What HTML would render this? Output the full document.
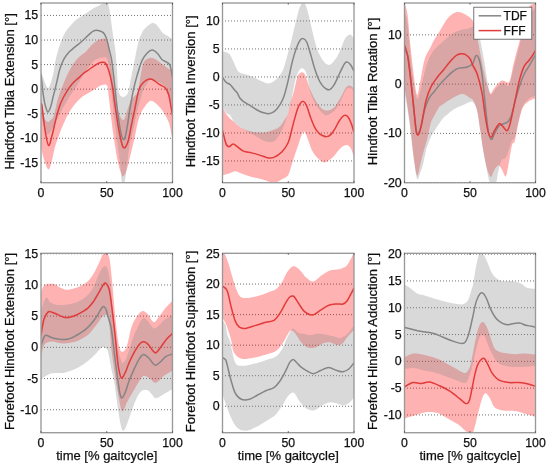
<!DOCTYPE html><html><head><meta charset="utf-8"><style>html,body{margin:0;padding:0;background:#fff;}svg{display:block;will-change:transform;}text{font-family:"Liberation Sans",sans-serif;fill:#111;stroke:#111;stroke-width:0.25px;}</style></head><body>
<svg width="550" height="467" viewBox="0 0 550 467">
<defs><filter id="bl" x="0" y="0" width="100%" height="100%"><feGaussianBlur stdDeviation="0.3"/></filter>
<clipPath id="c0"><rect x="41.00" y="3.00" width="131.50" height="179.70"/></clipPath>
<clipPath id="c1"><rect x="222.50" y="3.00" width="131.50" height="179.70"/></clipPath>
<clipPath id="c2"><rect x="404.50" y="3.00" width="131.00" height="179.70"/></clipPath>
<clipPath id="c3"><rect x="41.00" y="253.30" width="131.50" height="179.40"/></clipPath>
<clipPath id="c4"><rect x="222.50" y="253.30" width="131.50" height="179.40"/></clipPath>
<clipPath id="c5"><rect x="404.50" y="253.30" width="131.00" height="179.40"/></clipPath>
</defs>
<rect width="550" height="467" fill="#fff"/><g filter="url(#bl)">
<line x1="41.0" y1="15.45" x2="172.5" y2="15.45" stroke="#707070" stroke-width="1" stroke-dasharray="1,2" stroke-dashoffset="0.00"/>
<line x1="41.0" y1="40.02" x2="172.5" y2="40.02" stroke="#707070" stroke-width="1" stroke-dasharray="1,2" stroke-dashoffset="0.00"/>
<line x1="41.0" y1="64.58" x2="172.5" y2="64.58" stroke="#707070" stroke-width="1" stroke-dasharray="1,2" stroke-dashoffset="0.00"/>
<line x1="41.0" y1="89.15" x2="172.5" y2="89.15" stroke="#707070" stroke-width="1" stroke-dasharray="1,2" stroke-dashoffset="0.00"/>
<line x1="41.0" y1="113.72" x2="172.5" y2="113.72" stroke="#707070" stroke-width="1" stroke-dasharray="1,2" stroke-dashoffset="0.00"/>
<line x1="41.0" y1="138.28" x2="172.5" y2="138.28" stroke="#707070" stroke-width="1" stroke-dasharray="1,2" stroke-dashoffset="0.00"/>
<line x1="41.0" y1="162.85" x2="172.5" y2="162.85" stroke="#707070" stroke-width="1" stroke-dasharray="1,2" stroke-dashoffset="0.00"/>
<g clip-path="url(#c0)">
<path d="M41.00,96.27 C41.53,99.63 43.06,112.16 44.16,116.41 C45.25,120.67 46.46,121.25 47.58,121.82 C48.69,122.39 49.81,120.96 50.86,119.85 C51.91,118.75 52.68,118.84 53.89,115.19 C55.09,111.53 56.54,103.11 58.09,97.94 C59.65,92.77 61.69,88.06 63.22,84.18 C64.76,80.30 66.12,77.22 67.30,74.65 C68.48,72.08 69.38,70.48 70.32,68.76 C71.27,67.04 71.81,65.97 72.95,64.33 C74.09,62.70 75.76,60.48 77.16,58.93 C78.57,57.37 80.06,56.06 81.37,55.00 C82.69,53.93 83.74,53.77 85.05,52.54 C86.37,51.31 87.84,49.18 89.26,47.63 C90.69,46.07 92.15,44.43 93.60,43.21 C95.05,41.98 96.51,40.99 97.94,40.26 C99.36,39.52 100.88,38.95 102.15,38.78 C103.42,38.62 104.65,38.37 105.57,39.28 C106.49,40.18 107.03,41.90 107.67,44.19 C108.31,46.48 108.68,48.94 109.38,53.03 C110.08,57.13 111.13,63.43 111.88,68.76 C112.62,74.08 113.06,79.16 113.85,84.97 C114.64,90.78 115.60,98.48 116.61,103.64 C117.62,108.80 118.69,113.22 119.90,115.92 C121.11,118.63 122.64,120.67 123.84,119.85 C125.05,119.04 126.04,114.12 127.13,111.01 C128.23,107.90 129.21,103.64 130.42,101.18 C131.63,98.73 133.12,97.91 134.37,96.27 C135.61,94.63 136.82,95.04 137.92,91.36 C139.01,87.67 139.95,79.07 140.94,74.16 C141.93,69.25 142.34,64.58 143.83,61.88 C145.32,59.17 147.89,58.36 149.88,57.95 C151.88,57.54 153.81,58.44 155.80,59.42 C157.79,60.40 159.83,62.37 161.85,63.84 C163.86,65.32 166.34,67.12 167.90,68.26 C169.45,69.41 170.42,69.74 171.19,70.72 C171.95,71.70 172.28,73.59 172.50,74.16 L172.50,138.03 C172.35,137.54 172.15,137.54 171.58,135.09 C171.01,132.63 170.35,126.98 169.08,123.29 C167.81,119.61 165.95,116.09 163.95,112.98 C161.96,109.86 159.31,106.67 157.11,104.62 C154.92,102.58 152.84,100.36 150.80,100.69 C148.76,101.02 146.86,103.72 144.88,106.59 C142.91,109.45 140.72,112.48 138.97,117.89 C137.21,123.29 135.57,133.69 134.37,139.02 C133.16,144.34 132.72,145.73 131.74,149.83 C130.75,153.92 129.43,159.82 128.45,163.58 C127.46,167.35 126.69,170.30 125.82,172.43 C124.94,174.56 123.87,175.95 123.19,176.36 C122.51,176.77 122.64,177.34 121.74,174.88 C120.84,172.43 119.26,168.82 117.80,161.62 C116.33,154.41 114.44,142.54 112.93,131.65 C111.42,120.75 109.71,103.97 108.72,96.27 C107.74,88.57 108.13,87.34 107.01,85.46 C105.90,83.58 103.51,84.72 102.02,84.97 C100.53,85.22 100.02,85.75 98.07,86.93 C96.12,88.12 93.25,90.21 90.31,92.09 C87.38,93.98 83.74,95.25 80.45,98.24 C77.16,101.22 73.55,105.44 70.59,110.03 C67.63,114.61 64.78,121.08 62.70,125.75 C60.62,130.42 59.41,134.35 58.09,138.03 C56.78,141.72 55.90,143.77 54.81,147.86 C53.71,151.95 52.57,159.00 51.52,162.60 C50.47,166.20 49.59,169.48 48.50,169.48 C47.40,169.48 46.19,166.20 44.95,162.60 C43.70,159.00 41.66,150.32 41.00,147.86 Z" fill="#ff0000" fill-opacity="0.30"/>
<path d="M41.00,70.23 C41.44,71.70 42.42,76.13 43.63,79.07 C44.84,82.02 46.70,88.57 48.23,87.92 C49.77,87.26 51.59,79.89 52.84,75.14 C54.08,70.39 54.59,64.42 55.73,59.42 C56.87,54.42 58.18,49.51 59.67,45.17 C61.16,40.83 62.85,36.65 64.67,33.38 C66.49,30.10 68.62,27.81 70.59,25.52 C72.56,23.23 74.53,21.26 76.50,19.62 C78.48,17.98 80.45,17.00 82.42,15.69 C84.39,14.38 86.39,13.07 88.34,11.76 C90.29,10.45 92.15,8.98 94.13,7.83 C96.10,6.68 98.51,5.78 100.17,4.88 C101.84,3.98 103.02,3.00 104.12,2.43 C105.22,1.85 105.92,0.54 106.75,1.44 C107.58,2.34 108.39,4.55 109.12,7.83 C109.84,11.11 110.39,16.18 111.09,21.10 C111.79,26.01 112.62,32.48 113.33,37.31 C114.03,42.14 114.71,44.76 115.30,50.08 C115.89,55.41 116.37,62.61 116.88,69.25 C117.38,75.88 117.60,85.38 118.32,89.88 C119.05,94.39 120.25,95.12 121.22,96.27 C122.18,97.42 123.19,97.01 124.11,96.76 C125.03,96.52 126.01,95.70 126.74,94.80 C127.46,93.90 127.61,94.80 128.45,91.36 C129.28,87.92 130.60,79.89 131.74,74.16 C132.87,68.43 134.17,62.37 135.29,56.96 C136.40,51.56 137.39,45.58 138.44,41.73 C139.49,37.88 140.61,36.00 141.60,33.87 C142.58,31.74 142.58,30.76 144.36,28.96 C146.13,27.16 150.10,23.63 152.25,23.06 C154.40,22.49 155.58,23.96 157.25,25.52 C158.91,27.07 160.42,30.60 162.24,32.40 C164.06,34.20 166.54,35.18 168.16,36.33 C169.78,37.47 171.25,38.29 171.97,39.28 C172.70,40.26 172.41,41.73 172.50,42.22 L172.50,108.55 C171.84,106.10 169.76,97.50 168.56,93.81 C167.35,90.13 166.80,88.33 165.27,86.44 C163.73,84.56 161.78,83.58 159.35,82.51 C156.92,81.45 152.86,79.65 150.67,80.06 C148.48,80.47 147.49,83.09 146.20,84.97 C144.91,86.85 143.88,88.90 142.91,91.36 C141.95,93.81 141.33,96.60 140.41,99.71 C139.49,102.82 138.40,105.85 137.39,110.03 C136.38,114.20 135.31,120.51 134.37,124.77 C133.42,129.03 132.61,131.73 131.74,135.58 C130.86,139.43 130.09,141.31 129.11,147.86 C128.12,154.41 126.91,168.50 125.82,174.88 C124.72,181.27 123.52,188.39 122.53,186.18 C121.54,183.97 121.00,170.71 119.90,161.62 C118.80,152.53 117.38,143.23 115.95,131.65 C114.53,120.06 112.45,102.08 111.35,92.09 C110.26,82.10 110.10,77.31 109.38,71.70 C108.66,66.09 108.24,60.81 107.01,58.44 C105.79,56.06 103.51,57.45 102.02,57.45 C100.53,57.45 99.39,57.95 98.07,58.44 C96.76,58.93 95.42,59.26 94.13,60.40 C92.83,61.55 91.93,63.19 90.31,65.32 C88.69,67.45 86.37,70.23 84.40,73.18 C82.42,76.13 80.45,79.85 78.48,83.00 C76.50,86.16 74.20,89.56 72.56,92.09 C70.92,94.63 70.59,94.92 68.61,98.24 C66.64,101.55 63.36,107.08 60.73,111.99 C58.09,116.91 54.98,123.95 52.84,127.72 C50.69,131.48 49.26,134.51 47.84,134.59 C46.41,134.68 45.43,131.73 44.29,128.21 C43.15,124.69 41.55,115.92 41.00,113.47 Z" fill="#808080" fill-opacity="0.30"/>
<path d="M41.00,74.16 C41.33,77.19 42.31,87.34 42.97,92.34 C43.63,97.33 44.13,100.86 44.95,104.13 C45.76,107.41 46.85,111.67 47.84,111.99 C48.82,112.32 49.96,108.72 50.86,106.10 C51.76,103.48 52.57,98.89 53.23,96.27 C53.89,93.65 54.11,93.24 54.81,90.37 C55.51,87.51 56.58,82.68 57.44,79.07 C58.29,75.47 58.80,72.19 59.94,68.76 C61.08,65.32 62.83,61.14 64.28,58.44 C65.72,55.74 67.17,54.18 68.61,52.54 C70.06,50.90 71.53,49.84 72.95,48.61 C74.38,47.38 75.76,46.32 77.16,45.17 C78.57,44.02 80.06,42.88 81.37,41.73 C82.69,40.59 83.74,39.52 85.05,38.29 C86.37,37.06 87.84,35.59 89.26,34.36 C90.69,33.13 92.15,31.58 93.60,30.92 C95.05,30.27 96.51,30.27 97.94,30.43 C99.36,30.60 101.03,31.25 102.15,31.91 C103.27,32.56 103.79,32.81 104.65,34.36 C105.50,35.92 106.49,38.62 107.28,41.24 C108.06,43.86 108.66,46.97 109.38,50.08 C110.10,53.20 110.89,55.49 111.62,59.91 C112.34,64.33 113.04,70.80 113.72,76.62 C114.40,82.43 115.06,89.06 115.69,94.80 C116.33,100.53 116.90,105.93 117.53,111.01 C118.17,116.09 118.85,121.25 119.51,125.26 C120.16,129.27 120.84,132.71 121.48,135.09 C122.11,137.46 122.68,139.26 123.32,139.51 C123.95,139.75 124.61,138.85 125.29,136.56 C125.97,134.27 126.65,130.17 127.40,125.75 C128.14,121.33 128.97,114.94 129.76,110.03 C130.55,105.11 131.38,100.20 132.13,96.27 C132.87,92.34 133.53,89.47 134.23,86.44 C134.93,83.41 135.61,80.71 136.34,78.09 C137.06,75.47 137.61,73.67 138.57,70.72 C139.54,67.77 140.68,63.35 142.12,60.40 C143.57,57.45 145.59,54.75 147.25,53.03 C148.92,51.31 150.41,50.00 152.12,50.08 C153.83,50.17 155.89,51.97 157.51,53.52 C159.13,55.08 160.42,58.03 161.85,59.42 C163.27,60.81 164.72,60.89 166.06,61.88 C167.39,62.86 168.80,62.78 169.87,65.32 C170.94,67.85 172.06,75.14 172.50,77.11" fill="none" stroke="#858585" stroke-width="1.5"/>
<path d="M41.00,105.11 C41.15,105.20 41.26,101.51 41.92,105.61 C42.58,109.70 43.85,123.05 44.95,129.68 C46.04,136.31 47.33,144.34 48.50,145.40 C49.66,146.47 50.69,140.41 51.91,136.07 C53.14,131.73 54.54,124.44 55.86,119.36 C57.17,114.29 58.49,109.37 59.80,105.61 C61.12,101.84 62.11,99.85 63.75,96.76 C65.39,93.67 67.87,89.62 69.67,87.08 C71.46,84.54 72.89,83.19 74.53,81.53 C76.18,79.87 77.89,78.58 79.53,77.11 C81.17,75.63 82.73,74.00 84.40,72.69 C86.06,71.38 87.88,70.39 89.52,69.25 C91.17,68.10 92.61,66.87 94.26,65.81 C95.90,64.74 97.96,63.43 99.39,62.86 C100.81,62.29 101.86,62.37 102.81,62.37 C103.75,62.37 104.25,62.04 105.04,62.86 C105.83,63.68 106.68,65.15 107.54,67.28 C108.39,69.41 109.31,72.19 110.17,75.63 C111.02,79.07 111.92,83.41 112.67,87.92 C113.41,92.42 113.94,97.66 114.64,102.66 C115.34,107.65 116.15,113.22 116.88,117.89 C117.60,122.56 118.32,127.06 118.98,130.66 C119.64,134.27 120.23,136.97 120.82,139.51 C121.41,142.05 121.98,144.46 122.53,145.89 C123.08,147.33 123.49,148.11 124.11,148.11 C124.72,148.11 125.49,147.25 126.21,145.89 C126.94,144.54 127.64,143.19 128.45,140.00 C129.26,136.80 130.31,130.50 131.08,126.73 C131.84,122.97 132.46,120.18 133.05,117.40 C133.64,114.61 134.08,112.73 134.63,110.03 C135.18,107.33 135.72,104.21 136.34,101.18 C136.95,98.15 137.65,94.30 138.31,91.85 C138.97,89.39 139.52,87.92 140.28,86.44 C141.05,84.97 141.88,84.07 142.91,83.00 C143.94,81.94 145.17,80.71 146.46,80.06 C147.76,79.40 149.25,78.91 150.67,79.07 C152.10,79.24 153.56,80.14 155.01,81.04 C156.46,81.94 157.64,83.33 159.35,84.48 C161.06,85.62 163.71,86.20 165.27,87.92 C166.82,89.64 167.68,91.36 168.69,94.80 C169.69,98.24 170.68,105.11 171.32,108.55 C171.95,111.99 172.30,114.29 172.50,115.43" fill="none" stroke="#e23a3a" stroke-width="1.5"/>
</g>
<rect x="41.00" y="3.00" width="131.50" height="179.70" fill="none" stroke="#999999" stroke-width="1.35"/>
<line x1="41.00" y1="182.70" x2="41.00" y2="181.20" stroke="#555" stroke-width="1"/>
<line x1="41.00" y1="3.00" x2="41.00" y2="4.50" stroke="#555" stroke-width="1"/>
<text x="41.00" y="196.80" font-size="12.3" text-anchor="middle">0</text>
<line x1="106.75" y1="182.70" x2="106.75" y2="181.20" stroke="#555" stroke-width="1"/>
<line x1="106.75" y1="3.00" x2="106.75" y2="4.50" stroke="#555" stroke-width="1"/>
<text x="106.75" y="196.80" font-size="12.3" text-anchor="middle">50</text>
<line x1="172.50" y1="182.70" x2="172.50" y2="181.20" stroke="#555" stroke-width="1"/>
<line x1="172.50" y1="3.00" x2="172.50" y2="4.50" stroke="#555" stroke-width="1"/>
<text x="172.50" y="196.80" font-size="12.3" text-anchor="middle">100</text>
<text x="38.20" y="19.40" font-size="12.4" text-anchor="end">15</text>
<text x="38.20" y="43.97" font-size="12.4" text-anchor="end">10</text>
<text x="38.20" y="68.53" font-size="12.4" text-anchor="end">5</text>
<text x="38.20" y="93.10" font-size="12.4" text-anchor="end">0</text>
<text x="38.20" y="117.67" font-size="12.4" text-anchor="end">-5</text>
<text x="38.20" y="142.23" font-size="12.4" text-anchor="end">-10</text>
<text x="38.20" y="166.80" font-size="12.4" text-anchor="end">-15</text>
<text transform="translate(13.80,91.35) rotate(-90)" font-size="13" text-anchor="middle">Hindfoot Tibia Extension [°]</text>
<line x1="222.5" y1="20.95" x2="354.0" y2="20.95" stroke="#707070" stroke-width="1" stroke-dasharray="1,2" stroke-dashoffset="0.50"/>
<line x1="222.5" y1="48.95" x2="354.0" y2="48.95" stroke="#707070" stroke-width="1" stroke-dasharray="1,2" stroke-dashoffset="0.50"/>
<line x1="222.5" y1="76.95" x2="354.0" y2="76.95" stroke="#707070" stroke-width="1" stroke-dasharray="1,2" stroke-dashoffset="0.50"/>
<line x1="222.5" y1="104.95" x2="354.0" y2="104.95" stroke="#707070" stroke-width="1" stroke-dasharray="1,2" stroke-dashoffset="0.50"/>
<line x1="222.5" y1="132.95" x2="354.0" y2="132.95" stroke="#707070" stroke-width="1" stroke-dasharray="1,2" stroke-dashoffset="0.50"/>
<line x1="222.5" y1="160.95" x2="354.0" y2="160.95" stroke="#707070" stroke-width="1" stroke-dasharray="1,2" stroke-dashoffset="0.50"/>
<g clip-path="url(#c1)">
<path d="M222.50,106.94 C223.27,108.34 225.90,113.47 227.10,115.34 C228.31,117.21 228.72,117.21 229.73,118.14 C230.74,119.07 231.55,119.54 233.15,120.94 C234.75,122.34 237.01,124.95 239.33,126.54 C241.66,128.13 244.37,129.53 247.09,130.46 C249.81,131.39 252.42,131.86 255.64,132.14 C258.86,132.42 263.20,132.61 266.42,132.14 C269.64,131.67 272.65,130.37 274.97,129.34 C277.29,128.31 278.76,127.57 280.36,125.98 C281.96,124.39 283.32,121.87 284.57,119.82 C285.82,117.77 286.96,116.18 287.86,113.66 C288.75,111.14 289.35,107.13 289.96,104.70 C290.57,102.27 290.84,101.53 291.54,99.10 C292.24,96.67 293.23,93.78 294.17,90.14 C295.11,86.50 296.25,80.06 297.19,77.26 C298.13,74.46 298.97,74.18 299.82,73.34 C300.68,72.50 301.51,72.13 302.32,72.22 C303.13,72.31 303.96,72.78 304.69,73.90 C305.41,75.02 305.70,76.23 306.66,78.94 C307.62,81.65 308.83,86.31 310.47,90.14 C312.12,93.97 314.48,98.73 316.52,101.90 C318.56,105.07 320.66,107.78 322.70,109.18 C324.74,110.58 326.71,110.77 328.75,110.30 C330.79,109.83 332.89,108.62 334.93,106.38 C336.97,104.14 339.29,99.75 340.98,96.86 C342.67,93.97 343.87,90.89 345.06,89.02 C346.24,87.15 347.03,86.13 348.08,85.66 C349.13,85.19 350.38,85.66 351.37,86.22 C352.36,86.78 353.56,88.55 354.00,89.02 L354.00,157.34 C353.52,155.94 352.27,150.99 351.11,148.94 C349.95,146.89 348.72,145.21 347.03,145.02 C345.34,144.83 343.35,145.77 340.98,147.82 C338.61,149.87 335.55,154.91 332.83,157.34 C330.11,159.77 327.04,162.10 324.68,162.38 C322.31,162.66 320.66,160.89 318.63,159.02 C316.59,157.15 314.22,154.45 312.45,151.18 C310.67,147.91 309.33,142.69 307.98,139.42 C306.62,136.15 305.39,132.23 304.29,131.58 C303.20,130.93 302.41,133.26 301.40,135.50 C300.39,137.74 299.78,140.45 298.24,145.02 C296.71,149.59 293.88,157.90 292.19,162.94 C290.51,167.98 289.81,172.55 288.12,175.26 C286.43,177.97 283.91,178.06 282.07,179.18 C280.23,180.30 278.78,181.42 277.07,181.98 C275.36,182.54 274.38,183.01 271.81,182.54 C269.25,182.07 265.06,180.11 261.69,179.18 C258.31,178.25 254.96,177.87 251.56,176.94 C248.16,176.01 244.02,174.51 241.30,173.58 C238.59,172.65 237.29,171.34 235.26,171.34 C233.22,171.34 231.20,172.93 229.07,173.58 C226.95,174.23 223.60,174.98 222.50,175.26 Z" fill="#ff0000" fill-opacity="0.30"/>
<path d="M222.50,50.94 C223.60,51.41 227.30,52.06 229.07,53.74 C230.85,55.42 231.79,58.31 233.15,61.02 C234.51,63.73 235.87,67.93 237.23,69.98 C238.59,72.03 238.94,72.31 241.30,73.34 C243.67,74.37 248.03,74.83 251.43,76.14 C254.83,77.45 258.95,79.97 261.69,81.18 C264.43,82.39 265.83,83.42 267.87,83.42 C269.91,83.42 271.90,82.58 273.92,81.18 C275.93,79.78 278.28,77.35 279.97,75.02 C281.65,72.69 282.68,70.91 284.04,67.18 C285.40,63.45 286.87,57.19 288.12,52.62 C289.37,48.05 290.03,45.81 291.54,39.74 C293.05,33.67 295.77,21.73 297.19,16.22 C298.62,10.71 299.05,9.03 300.08,6.70 C301.12,4.37 302.28,2.03 303.37,2.22 C304.47,2.41 305.45,4.27 306.66,7.82 C307.87,11.37 309.29,18.09 310.61,23.50 C311.92,28.91 313.24,35.45 314.55,40.30 C315.87,45.15 316.96,49.07 318.50,52.62 C320.03,56.17 322.05,59.53 323.75,61.58 C325.46,63.63 327.22,64.85 328.75,64.94 C330.29,65.03 331.60,63.45 332.96,62.14 C334.32,60.83 335.59,59.34 336.90,57.10 C338.22,54.86 339.49,51.78 340.85,48.70 C342.21,45.62 343.68,40.95 345.06,38.62 C346.44,36.29 347.97,35.17 349.13,34.70 C350.30,34.23 351.22,34.98 352.03,35.82 C352.84,36.66 353.67,39.09 354.00,39.74 L354.00,91.26 C353.56,90.79 352.36,89.02 351.37,88.46 C350.38,87.90 349.13,87.43 348.08,87.90 C347.03,88.37 346.24,89.21 345.06,91.26 C343.87,93.31 342.67,97.05 340.98,100.22 C339.29,103.39 337.30,107.78 334.93,110.30 C332.57,112.82 328.82,114.87 326.78,115.34 C324.74,115.81 324.41,114.69 322.70,113.10 C320.99,111.51 318.56,109.27 316.52,105.82 C314.48,102.37 312.01,97.23 310.47,92.38 C308.94,87.53 308.28,80.43 307.32,76.70 C306.35,72.97 305.67,71.38 304.69,69.98 C303.70,68.58 302.50,67.93 301.40,68.30 C300.30,68.67 299.10,70.35 298.11,72.22 C297.13,74.09 296.32,76.42 295.48,79.50 C294.65,82.58 293.86,86.87 293.12,90.70 C292.37,94.53 291.71,99.19 291.01,102.46 C290.31,105.73 289.81,107.22 288.91,110.30 C288.01,113.38 286.69,117.77 285.62,120.94 C284.55,124.11 283.52,127.01 282.46,129.34 C281.41,131.67 280.56,133.07 279.31,134.94 C278.06,136.81 276.42,139.33 274.97,140.54 C273.52,141.75 272.40,142.13 270.63,142.22 C268.85,142.31 266.82,142.13 264.32,141.10 C261.82,140.07 258.51,137.65 255.64,136.06 C252.77,134.47 249.81,133.17 247.09,131.58 C244.37,129.99 241.66,128.41 239.33,126.54 C237.01,124.67 234.75,122.34 233.15,120.38 C231.55,118.42 230.74,115.90 229.73,114.78 C228.72,113.66 228.31,114.97 227.10,113.66 C225.90,112.35 223.27,108.06 222.50,106.94 Z" fill="#808080" fill-opacity="0.30"/>
<path d="M222.50,77.26 C223.09,78.10 224.78,81.09 226.05,82.30 C227.32,83.51 228.77,83.33 230.13,84.54 C231.49,85.75 233.02,88.18 234.20,89.58 C235.39,90.98 236.22,91.45 237.23,92.94 C238.24,94.43 239.00,96.95 240.25,98.54 C241.50,100.13 242.99,101.25 244.72,102.46 C246.45,103.67 248.65,104.61 250.64,105.82 C252.64,107.03 254.70,108.62 256.69,109.74 C258.68,110.86 260.63,111.89 262.61,112.54 C264.58,113.19 266.55,113.85 268.52,113.66 C270.50,113.47 272.47,113.01 274.44,111.42 C276.42,109.83 278.72,106.85 280.36,104.14 C282.00,101.43 282.99,99.19 284.31,95.18 C285.62,91.17 286.94,85.57 288.25,80.06 C289.56,74.55 290.88,67.37 292.19,62.14 C293.51,56.91 294.82,52.34 296.14,48.70 C297.45,45.06 298.88,41.98 300.08,40.30 C301.29,38.62 302.28,38.34 303.37,38.62 C304.47,38.90 305.45,39.37 306.66,41.98 C307.87,44.59 309.29,49.91 310.61,54.30 C311.92,58.69 313.24,64.19 314.55,68.30 C315.87,72.41 317.18,76.05 318.50,78.94 C319.81,81.83 321.12,83.98 322.44,85.66 C323.75,87.34 325.18,88.37 326.38,89.02 C327.59,89.67 328.47,90.14 329.67,89.58 C330.88,89.02 332.30,87.62 333.62,85.66 C334.93,83.70 336.25,80.53 337.56,77.82 C338.88,75.11 340.30,71.85 341.51,69.42 C342.71,66.99 343.81,64.47 344.80,63.26 C345.78,62.05 346.44,61.86 347.43,62.14 C348.41,62.42 349.62,63.45 350.71,64.94 C351.81,66.43 353.45,70.07 354.00,71.10" fill="none" stroke="#858585" stroke-width="1.5"/>
<path d="M222.50,130.46 C223.09,132.70 224.95,141.19 226.05,143.90 C227.15,146.61 227.89,146.70 229.07,146.70 C230.26,146.70 231.79,143.90 233.15,143.90 C234.51,143.90 235.52,145.49 237.23,146.70 C238.94,147.91 241.02,150.15 243.41,151.18 C245.80,152.21 248.84,152.21 251.56,152.86 C254.28,153.51 257.00,154.26 259.71,155.10 C262.43,155.94 265.50,157.53 267.87,157.90 C270.23,158.27 271.55,158.37 273.92,157.34 C276.28,156.31 279.70,154.17 282.07,151.74 C284.44,149.31 286.63,145.95 288.12,142.78 C289.61,139.61 290.00,136.43 291.01,132.70 C292.02,128.97 293.09,124.30 294.17,120.38 C295.24,116.46 296.47,111.98 297.45,109.18 C298.44,106.38 299.10,104.89 300.08,103.58 C301.07,102.27 302.28,100.97 303.37,101.34 C304.47,101.71 305.45,103.11 306.66,105.82 C307.87,108.53 309.29,114.03 310.61,117.58 C311.92,121.13 313.24,124.58 314.55,127.10 C315.87,129.62 317.18,131.30 318.50,132.70 C319.81,134.10 321.06,134.85 322.44,135.50 C323.82,136.15 325.35,136.81 326.78,136.62 C328.20,136.43 329.63,135.69 330.99,134.38 C332.35,133.07 333.62,130.93 334.93,128.78 C336.25,126.63 337.67,123.46 338.88,121.50 C340.08,119.54 341.13,118.05 342.17,117.02 C343.20,115.99 344.07,115.34 345.06,115.34 C346.04,115.34 347.03,115.62 348.08,117.02 C349.13,118.42 350.38,121.13 351.37,123.74 C352.36,126.35 353.56,131.21 354.00,132.70" fill="none" stroke="#e23a3a" stroke-width="1.5"/>
</g>
<rect x="222.50" y="3.00" width="131.50" height="179.70" fill="none" stroke="#999999" stroke-width="1.35"/>
<line x1="222.50" y1="182.70" x2="222.50" y2="181.20" stroke="#555" stroke-width="1"/>
<line x1="222.50" y1="3.00" x2="222.50" y2="4.50" stroke="#555" stroke-width="1"/>
<text x="222.50" y="196.80" font-size="12.3" text-anchor="middle">0</text>
<line x1="288.25" y1="182.70" x2="288.25" y2="181.20" stroke="#555" stroke-width="1"/>
<line x1="288.25" y1="3.00" x2="288.25" y2="4.50" stroke="#555" stroke-width="1"/>
<text x="288.25" y="196.80" font-size="12.3" text-anchor="middle">50</text>
<line x1="354.00" y1="182.70" x2="354.00" y2="181.20" stroke="#555" stroke-width="1"/>
<line x1="354.00" y1="3.00" x2="354.00" y2="4.50" stroke="#555" stroke-width="1"/>
<text x="354.00" y="196.80" font-size="12.3" text-anchor="middle">100</text>
<text x="219.70" y="24.90" font-size="12.4" text-anchor="end">10</text>
<text x="219.70" y="52.90" font-size="12.4" text-anchor="end">5</text>
<text x="219.70" y="80.90" font-size="12.4" text-anchor="end">0</text>
<text x="219.70" y="108.90" font-size="12.4" text-anchor="end">-5</text>
<text x="219.70" y="136.90" font-size="12.4" text-anchor="end">-10</text>
<text x="219.70" y="164.90" font-size="12.4" text-anchor="end">-15</text>
<text transform="translate(195.30,91.35) rotate(-90)" font-size="13" text-anchor="middle">Hindfoot Tibia Inversion [°]</text>
<line x1="404.5" y1="34.85" x2="535.5" y2="34.85" stroke="#707070" stroke-width="1" stroke-dasharray="1,2" stroke-dashoffset="0.50"/>
<line x1="404.5" y1="84.12" x2="535.5" y2="84.12" stroke="#707070" stroke-width="1" stroke-dasharray="1,2" stroke-dashoffset="0.50"/>
<line x1="404.5" y1="133.38" x2="535.5" y2="133.38" stroke="#707070" stroke-width="1" stroke-dasharray="1,2" stroke-dashoffset="0.50"/>
<line x1="404.5" y1="182.65" x2="535.5" y2="182.65" stroke="#707070" stroke-width="1" stroke-dasharray="1,2" stroke-dashoffset="0.50"/>
<g clip-path="url(#c2)">
<path d="M404.50,2.58 C405.02,4.63 406.75,8.65 407.64,14.89 C408.54,21.13 408.98,30.99 409.87,40.02 C410.77,49.05 411.84,59.97 413.01,69.09 C414.19,78.20 415.74,92.65 416.94,94.71 C418.15,96.76 418.91,87.40 420.22,81.40 C421.53,75.41 423.01,64.57 424.81,58.74 C426.60,52.91 429.41,49.54 430.96,46.42 C432.51,43.30 432.51,42.81 434.11,40.02 C435.70,37.23 438.45,33.04 440.52,29.67 C442.60,26.31 444.56,22.45 446.55,19.82 C448.54,17.19 450.48,15.22 452.45,13.91 C454.41,12.59 456.35,11.94 458.34,11.94 C460.33,11.94 462.38,12.92 464.37,13.91 C466.35,14.89 468.62,16.21 470.26,17.85 C471.90,19.49 473.03,20.56 474.19,23.76 C475.35,26.96 476.16,31.97 477.20,37.06 C478.25,42.15 479.28,48.15 480.48,54.31 C481.68,60.47 483.21,68.68 484.41,74.01 C485.61,79.35 486.68,83.05 487.69,86.33 C488.69,89.61 489.56,93.06 490.44,93.72 C491.31,94.38 491.92,91.67 492.93,90.27 C493.93,88.88 495.37,86.74 496.46,85.34 C497.55,83.95 498.45,82.72 499.48,81.90 C500.50,81.07 501.53,80.42 502.62,80.42 C503.71,80.42 505.00,81.57 506.02,81.90 C507.05,82.22 507.95,83.29 508.78,82.39 C509.61,81.49 510.33,79.02 511.00,76.48 C511.68,73.93 511.85,71.39 512.84,67.12 C513.82,62.85 515.72,55.37 516.90,50.86 C518.08,46.34 518.99,43.96 519.91,40.02 C520.83,36.08 521.46,31.40 522.40,27.21 C523.34,23.02 524.34,18.42 525.54,14.89 C526.74,11.36 528.27,7.83 529.61,6.03 C530.94,4.22 532.55,4.55 533.53,4.05 C534.52,3.56 535.17,3.23 535.50,3.07 L535.50,98.15 C534.43,98.65 531.18,99.55 529.08,101.11 C526.99,102.67 524.63,104.15 522.92,107.51 C521.22,110.88 520.22,115.73 518.86,121.31 C517.51,126.89 515.96,136.99 514.80,141.02 C513.64,145.04 513.06,141.02 511.92,145.45 C510.78,149.88 509.04,162.45 507.99,167.62 C506.94,172.79 506.61,176.08 505.63,176.49 C504.65,176.90 503.27,171.97 502.10,170.08 C500.92,168.19 499.87,165.16 498.56,165.16 C497.25,165.16 495.39,168.19 494.24,170.08 C493.08,171.97 492.42,175.67 491.62,176.49 C490.81,177.31 490.26,176.73 489.39,175.01 C488.51,173.29 487.40,170.33 486.38,166.14 C485.35,161.95 484.26,155.96 483.23,149.88 C482.20,143.81 481.22,136.25 480.22,129.68 C479.21,123.12 478.41,115.40 477.20,110.47 C476.00,105.54 474.17,102.18 473.01,100.12 C471.86,98.07 471.77,99.14 470.26,98.15 C468.76,97.17 466.03,94.71 463.97,94.21 C461.92,93.72 460.31,94.29 457.95,95.20 C455.59,96.10 452.53,97.99 449.83,99.63 C447.12,101.27 443.58,103.66 441.70,105.05 C439.83,106.45 439.94,105.95 438.56,108.01 C437.18,110.06 434.76,114.82 433.45,117.37 C432.14,119.91 431.70,119.83 430.70,123.28 C429.70,126.73 428.67,133.13 427.43,138.06 C426.18,142.99 424.46,148.32 423.23,152.84 C422.01,157.36 421.09,161.38 420.09,165.16 C419.08,168.93 418.23,176.57 417.21,175.50 C416.18,174.44 415.26,168.36 413.93,158.75 C412.60,149.15 410.79,129.85 409.22,117.86 C407.64,105.87 405.29,92.00 404.50,86.82 Z" fill="#ff0000" fill-opacity="0.30"/>
<path d="M404.50,9.97 C405.02,12.43 406.75,18.18 407.64,24.75 C408.54,31.32 408.98,40.35 409.87,49.38 C410.77,58.41 411.84,70.73 413.01,78.94 C414.19,87.15 415.74,96.59 416.94,98.65 C418.15,100.70 418.91,95.77 420.22,91.26 C421.53,86.74 423.39,76.89 424.81,71.55 C426.22,66.21 427.29,62.68 428.74,59.23 C430.18,55.78 431.92,53.08 433.45,50.86 C434.98,48.64 436.20,47.57 437.90,45.93 C439.61,44.29 441.92,42.56 443.67,41.00 C445.42,39.44 446.68,37.97 448.38,36.57 C450.09,35.17 451.62,33.78 453.89,32.63 C456.16,31.48 459.65,30.33 462.01,29.67 C464.37,29.02 466.20,29.18 468.03,28.69 C469.87,28.20 471.70,26.72 473.01,26.72 C474.32,26.72 474.98,27.54 475.89,28.69 C476.81,29.84 477.79,31.73 478.51,33.61 C479.24,35.50 479.26,35.42 480.22,40.02 C481.18,44.62 483.08,54.31 484.28,61.20 C485.48,68.10 486.40,75.98 487.42,81.40 C488.45,86.82 489.52,91.83 490.44,93.72 C491.35,95.61 491.92,93.72 492.93,92.73 C493.93,91.75 494.85,89.45 496.46,87.81 C498.08,86.17 500.57,83.21 502.62,82.88 C504.67,82.55 507.07,87.73 508.78,85.84 C510.48,83.95 511.48,76.56 512.84,71.55 C514.19,66.54 515.72,60.30 516.90,55.78 C518.08,51.27 518.99,48.39 519.91,44.45 C520.83,40.51 521.11,36.24 522.40,32.14 C523.69,28.03 526.11,23.10 527.64,19.82 C529.17,16.54 530.26,14.48 531.57,12.43 C532.88,10.38 534.85,8.32 535.50,7.50 L535.50,95.69 C534.43,96.18 531.18,97.00 529.08,98.65 C526.99,100.29 524.63,102.10 522.92,105.54 C521.22,108.99 520.22,114.08 518.86,119.34 C517.51,124.59 515.96,133.54 514.80,137.07 C513.64,140.61 512.84,138.72 511.92,140.52 C511.00,142.33 510.35,145.04 509.30,147.91 C508.25,150.79 506.94,155.71 505.63,157.77 C504.32,159.82 502.62,158.18 501.44,160.23 C500.26,162.28 499.43,166.39 498.56,170.08 C497.68,173.78 497.14,179.53 496.20,182.40 C495.26,185.27 494.06,187.49 492.93,187.33 C491.79,187.16 490.48,184.70 489.39,181.41 C488.30,178.13 487.40,172.71 486.38,167.62 C485.35,162.53 484.26,157.03 483.23,150.87 C482.20,144.71 481.22,137.24 480.22,130.67 C479.21,124.10 478.14,115.81 477.20,111.46 C476.27,107.10 475.44,106.20 474.58,104.56 C473.73,102.92 472.86,102.01 472.10,101.60 C471.33,101.19 470.96,101.77 470.00,102.10 C469.04,102.42 467.86,102.92 466.33,103.57 C464.80,104.23 462.82,105.13 460.83,106.04 C458.84,106.94 456.49,107.76 454.41,108.99 C452.34,110.22 450.35,111.78 448.38,113.43 C446.42,115.07 444.91,115.97 442.62,118.85 C440.33,121.72 436.62,127.55 434.63,130.67 C432.64,133.79 432.01,134.78 430.70,137.57 C429.39,140.36 427.64,144.88 426.77,147.42 C425.90,149.97 426.12,149.88 425.46,152.84 C424.80,155.80 423.71,161.87 422.84,165.16 C421.97,168.44 421.16,170.25 420.22,172.55 C419.28,174.85 418.25,181.00 417.21,178.95 C416.16,176.90 415.26,169.92 413.93,160.23 C412.60,150.54 410.79,132.31 409.22,120.82 C407.64,109.32 405.29,96.18 404.50,91.26 Z" fill="#808080" fill-opacity="0.30"/>
<path d="M404.50,50.37 C405.05,51.27 406.71,50.94 407.77,55.78 C408.84,60.63 409.87,69.91 410.92,79.43 C411.97,88.96 413.08,104.07 414.06,112.93 C415.05,121.80 416.03,129.36 416.81,132.64 C417.60,135.93 417.97,134.04 418.78,132.64 C419.59,131.24 420.66,128.21 421.66,124.27 C422.67,120.32 423.52,113.43 424.81,108.99 C426.09,104.56 427.84,100.54 429.39,97.66 C430.94,94.79 432.29,94.05 434.11,91.75 C435.92,89.45 438.21,86.25 440.26,83.87 C442.32,81.49 444.35,79.51 446.42,77.46 C448.49,75.41 450.63,73.11 452.71,71.55 C454.78,69.99 456.79,68.76 458.87,68.10 C460.94,67.44 463.62,67.86 465.15,67.61 C466.68,67.36 466.77,67.28 468.03,66.62 C469.30,65.97 471.46,65.47 472.75,63.67 C474.04,61.86 474.74,56.61 475.76,55.78 C476.79,54.96 477.86,55.62 478.91,58.74 C479.96,61.86 481.03,67.20 482.05,74.51 C483.08,81.81 484.04,93.23 485.06,102.59 C486.09,111.95 487.16,124.51 488.21,130.67 C489.26,136.83 490.31,139.05 491.35,139.54 C492.40,140.03 493.21,135.93 494.50,133.63 C495.79,131.33 497.53,127.39 499.08,125.74 C500.63,124.10 502.25,124.51 503.80,123.77 C505.35,123.03 507.09,122.79 508.38,121.31 C509.67,119.83 510.48,118.02 511.53,114.90 C512.58,111.78 513.38,107.27 514.67,102.59 C515.96,97.91 517.71,91.50 519.26,86.82 C520.81,82.14 522.40,77.87 523.97,74.51 C525.54,71.14 527.14,69.25 528.69,66.62 C530.24,64.00 532.14,60.71 533.27,58.74 C534.41,56.77 535.13,55.46 535.50,54.80" fill="none" stroke="#858585" stroke-width="1.5"/>
<path d="M404.50,44.95 C405.02,46.75 406.60,49.79 407.64,55.78 C408.69,61.78 409.74,72.04 410.79,80.91 C411.84,89.78 413.06,100.70 413.93,108.99 C414.81,117.29 415.37,126.32 416.03,130.67 C416.68,135.02 417.19,135.10 417.86,135.10 C418.54,135.10 419.19,134.04 420.09,130.67 C420.98,127.30 422.21,120.08 423.23,114.90 C424.26,109.73 424.96,104.31 426.25,99.63 C427.53,94.95 429.15,90.52 430.96,86.82 C432.77,83.13 435.04,80.25 437.12,77.46 C439.19,74.67 441.33,72.62 443.41,70.07 C445.48,67.53 447.49,64.57 449.56,62.19 C451.64,59.81 454.04,57.18 455.85,55.78 C457.66,54.39 458.89,54.06 460.44,53.81 C461.99,53.57 463.56,53.49 465.15,54.31 C466.75,55.13 468.73,56.93 470.00,58.74 C471.27,60.55 471.53,62.52 472.75,65.15 C473.97,67.77 475.79,69.83 477.34,74.51 C478.89,79.19 480.76,86.49 482.05,93.23 C483.34,99.96 484.04,108.42 485.06,114.90 C486.09,121.39 487.16,128.45 488.21,132.15 C489.26,135.84 490.31,137.32 491.35,137.07 C492.40,136.83 493.21,132.89 494.50,130.67 C495.79,128.45 497.79,124.59 499.08,123.77 C500.37,122.95 500.92,124.59 502.23,125.74 C503.54,126.89 505.65,130.92 506.94,130.67 C508.23,130.42 508.67,128.95 509.95,124.27 C511.24,119.58 513.12,109.81 514.67,102.59 C516.22,95.36 517.71,86.90 519.26,80.91 C520.81,74.92 522.40,69.99 523.97,66.62 C525.54,63.26 527.14,62.76 528.69,60.71 C530.24,58.66 532.14,56.03 533.27,54.31 C534.41,52.58 535.13,51.02 535.50,50.37" fill="none" stroke="#e23a3a" stroke-width="1.5"/>
</g>
<rect x="404.50" y="3.00" width="131.00" height="179.70" fill="none" stroke="#999999" stroke-width="1.35"/>
<line x1="404.50" y1="182.70" x2="404.50" y2="181.20" stroke="#555" stroke-width="1"/>
<line x1="404.50" y1="3.00" x2="404.50" y2="4.50" stroke="#555" stroke-width="1"/>
<text x="404.50" y="196.80" font-size="12.3" text-anchor="middle">0</text>
<line x1="470.00" y1="182.70" x2="470.00" y2="181.20" stroke="#555" stroke-width="1"/>
<line x1="470.00" y1="3.00" x2="470.00" y2="4.50" stroke="#555" stroke-width="1"/>
<text x="470.00" y="196.80" font-size="12.3" text-anchor="middle">50</text>
<line x1="535.50" y1="182.70" x2="535.50" y2="181.20" stroke="#555" stroke-width="1"/>
<line x1="535.50" y1="3.00" x2="535.50" y2="4.50" stroke="#555" stroke-width="1"/>
<text x="535.50" y="196.80" font-size="12.3" text-anchor="middle">100</text>
<text x="401.70" y="38.80" font-size="12.4" text-anchor="end">10</text>
<text x="401.70" y="88.07" font-size="12.4" text-anchor="end">0</text>
<text x="401.70" y="137.33" font-size="12.4" text-anchor="end">-10</text>
<text x="401.70" y="186.60" font-size="12.4" text-anchor="end">-20</text>
<text transform="translate(377.30,91.35) rotate(-90)" font-size="13" text-anchor="middle">Hindfoot Tibia Rotation [°]</text>
<line x1="41.0" y1="253.75" x2="172.5" y2="253.75" stroke="#707070" stroke-width="1" stroke-dasharray="1,2" stroke-dashoffset="0.00"/>
<line x1="41.0" y1="284.95" x2="172.5" y2="284.95" stroke="#707070" stroke-width="1" stroke-dasharray="1,2" stroke-dashoffset="0.00"/>
<line x1="41.0" y1="316.15" x2="172.5" y2="316.15" stroke="#707070" stroke-width="1" stroke-dasharray="1,2" stroke-dashoffset="0.00"/>
<line x1="41.0" y1="347.35" x2="172.5" y2="347.35" stroke="#707070" stroke-width="1" stroke-dasharray="1,2" stroke-dashoffset="0.00"/>
<line x1="41.0" y1="378.55" x2="172.5" y2="378.55" stroke="#707070" stroke-width="1" stroke-dasharray="1,2" stroke-dashoffset="0.00"/>
<line x1="41.0" y1="409.75" x2="172.5" y2="409.75" stroke="#707070" stroke-width="1" stroke-dasharray="1,2" stroke-dashoffset="0.00"/>
<g clip-path="url(#c3)">
<path d="M41.00,292.19 C41.44,291.15 42.47,287.30 43.63,285.95 C44.79,284.60 46.22,284.39 47.97,284.08 C49.72,283.76 52.24,283.56 54.15,284.08 C56.06,284.60 57.35,286.26 59.41,287.20 C61.47,288.13 64.10,289.48 66.51,289.69 C68.92,289.90 71.55,289.07 73.88,288.44 C76.20,287.82 78.17,287.09 80.45,285.95 C82.73,284.80 85.47,283.45 87.55,281.58 C89.63,279.71 91.39,277.11 92.94,274.72 C94.50,272.32 95.81,269.31 96.89,267.23 C97.96,265.15 98.44,264.32 99.39,262.24 C100.33,260.16 101.56,256.52 102.54,254.75 C103.53,252.98 104.19,251.11 105.30,251.63 C106.42,252.15 108.11,252.88 109.25,257.87 C110.39,262.86 111.13,271.70 112.14,281.58 C113.15,291.46 114.11,306.23 115.30,317.15 C116.48,328.07 117.93,341.38 119.24,347.10 C120.56,352.82 121.87,351.78 123.19,351.47 C124.50,351.16 125.75,349.28 127.13,345.23 C128.51,341.17 129.72,332.12 131.47,327.13 C133.23,322.14 135.79,317.98 137.65,315.28 C139.52,312.57 140.98,311.12 142.65,310.91 C144.32,310.70 145.78,312.16 147.65,314.03 C149.51,315.90 151.77,321.93 153.83,322.14 C155.89,322.35 157.97,317.77 160.01,315.28 C162.05,312.78 163.97,309.56 166.06,307.16 C168.14,304.77 171.43,301.96 172.50,300.92 L172.50,370.50 C171.10,371.38 166.85,373.78 164.08,375.80 C161.32,377.83 158.47,382.36 155.93,382.67 C153.39,382.98 150.87,378.82 148.83,377.68 C146.79,376.53 145.35,375.18 143.70,375.80 C142.06,376.43 140.66,378.92 138.97,381.42 C137.28,383.92 135.55,387.35 133.58,390.78 C131.60,394.21 128.97,398.58 127.13,402.01 C125.29,405.44 123.84,411.68 122.53,411.37 C121.22,411.06 120.45,405.86 119.24,400.14 C118.04,394.42 116.61,385.58 115.30,377.05 C113.98,368.52 112.34,357.60 111.35,348.97 C110.37,340.34 110.08,330.77 109.38,325.26 C108.68,319.75 108.20,317.46 107.14,315.90 C106.09,314.34 104.76,314.55 103.07,315.90 C101.38,317.25 98.93,321.52 97.02,324.01 C95.11,326.51 93.34,328.90 91.63,330.88 C89.92,332.85 89.06,334.20 86.76,335.87 C84.46,337.53 80.54,339.72 77.82,340.86 C75.10,342.00 73.31,342.32 70.46,342.73 C67.61,343.15 63.77,343.56 60.73,343.36 C57.68,343.15 54.96,341.17 52.18,341.48 C49.39,341.80 45.89,342.00 44.02,345.23 C42.16,348.45 41.50,358.23 41.00,360.83 Z" fill="#ff0000" fill-opacity="0.30"/>
<path d="M41.00,310.28 C41.85,308.20 44.59,299.16 46.13,297.80 C47.66,296.45 48.52,301.03 50.20,302.17 C51.89,303.32 53.54,304.25 56.25,304.67 C58.97,305.08 63.11,305.08 66.51,304.67 C69.91,304.25 73.59,303.32 76.64,302.17 C79.68,301.03 82.07,300.09 84.79,297.80 C87.51,295.52 90.58,292.40 92.94,288.44 C95.31,284.49 97.30,277.63 98.99,274.09 C100.68,270.56 101.71,268.16 103.07,267.23 C104.43,266.29 105.90,265.46 107.14,268.48 C108.39,271.49 109.53,277.21 110.56,285.32 C111.59,293.44 112.21,306.85 113.33,317.15 C114.44,327.44 115.95,339.82 117.27,347.10 C118.58,354.38 120.23,358.23 121.22,360.83 C122.20,363.43 122.42,362.91 123.19,362.70 C123.95,362.49 124.83,361.66 125.82,359.58 C126.80,357.50 127.90,353.86 129.11,350.22 C130.31,346.58 131.95,340.86 133.05,337.74 C134.15,334.62 134.08,334.72 135.68,331.50 C137.28,328.28 140.68,320.16 142.65,318.40 C144.62,316.63 145.65,319.23 147.51,320.89 C149.38,322.56 151.85,327.65 153.83,328.38 C155.80,329.11 157.66,326.61 159.35,325.26 C161.04,323.91 161.76,321.93 163.95,320.27 C166.14,318.60 171.08,316.11 172.50,315.28 L172.50,388.91 C171.10,389.74 166.85,392.34 164.08,393.90 C161.32,395.46 157.93,398.16 155.93,398.27 C153.94,398.37 153.48,395.88 152.12,394.52 C150.76,393.17 149.51,390.78 147.78,390.16 C146.05,389.53 143.64,389.32 141.73,390.78 C139.82,392.24 138.05,395.46 136.34,398.89 C134.63,402.32 133.12,406.90 131.47,411.37 C129.83,415.84 127.83,422.50 126.47,425.72 C125.12,428.95 124.20,430.51 123.32,430.72 C122.44,430.92 122.05,430.20 121.22,426.97 C120.38,423.75 119.48,418.86 118.32,411.37 C117.16,403.88 115.41,389.12 114.25,382.04 C113.08,374.97 112.21,373.20 111.35,368.94 C110.50,364.68 109.82,359.68 109.12,356.46 C108.42,353.24 108.15,351.16 107.14,349.60 C106.14,348.04 104.43,347.00 103.07,347.10 C101.71,347.20 100.46,348.87 98.99,350.22 C97.52,351.57 95.95,353.55 94.26,355.21 C92.57,356.88 90.73,358.64 88.87,360.20 C87.00,361.76 85.12,363.22 83.08,364.57 C81.04,365.92 79.75,366.96 76.64,368.32 C73.52,369.67 68.48,371.85 64.41,372.68 C60.33,373.52 55.42,372.68 52.18,373.31 C48.93,373.93 46.81,375.39 44.95,376.43 C43.08,377.47 41.66,379.03 41.00,379.55 Z" fill="#808080" fill-opacity="0.30"/>
<path d="M41.00,345.23 C41.50,343.88 43.17,338.78 44.02,337.12 C44.88,335.45 44.77,335.14 46.13,335.24 C47.49,335.35 50.18,337.12 52.18,337.74 C54.17,338.36 56.06,338.68 58.09,338.99 C60.13,339.30 62.35,339.72 64.41,339.61 C66.47,339.51 68.42,339.09 70.46,338.36 C72.49,337.64 74.75,336.28 76.64,335.24 C78.52,334.20 80.08,333.27 81.77,332.12 C83.45,330.98 85.23,329.73 86.76,328.38 C88.30,327.03 89.61,325.57 90.97,324.01 C92.33,322.45 93.71,320.68 94.91,319.02 C96.12,317.36 97.17,315.69 98.20,314.03 C99.23,312.36 100.22,310.28 101.10,309.04 C101.97,307.79 102.67,306.54 103.46,306.54 C104.25,306.54 105.04,307.27 105.83,309.04 C106.62,310.80 107.28,313.82 108.20,317.15 C109.12,320.48 110.17,321.72 111.35,329.00 C112.54,336.28 114.11,351.57 115.30,360.83 C116.48,370.08 117.47,378.40 118.45,384.54 C119.44,390.68 120.10,396.29 121.22,397.64 C122.33,399.00 123.84,395.46 125.16,392.65 C126.47,389.84 127.46,385.06 129.11,380.80 C130.75,376.53 133.27,370.81 135.02,367.07 C136.78,363.32 138.18,360.41 139.62,358.33 C141.07,356.25 142.15,354.59 143.70,354.59 C145.26,354.59 147.43,356.88 148.96,358.33 C150.50,359.79 151.74,362.18 152.91,363.32 C154.07,364.47 154.62,365.51 155.93,365.20 C157.25,364.88 159.11,362.91 160.80,361.45 C162.48,360.00 164.11,357.71 166.06,356.46 C168.01,355.21 171.43,354.38 172.50,353.96" fill="none" stroke="#858585" stroke-width="1.5"/>
<path d="M41.00,335.24 C41.50,332.54 42.86,322.87 44.02,319.02 C45.19,315.17 46.65,313.30 47.97,312.16 C49.28,311.01 50.27,311.74 51.91,312.16 C53.56,312.57 55.86,313.82 57.83,314.65 C59.80,315.48 61.78,316.73 63.75,317.15 C65.72,317.56 67.67,317.46 69.67,317.15 C71.66,316.84 73.72,316.11 75.72,315.28 C77.71,314.44 79.66,313.30 81.63,312.16 C83.61,311.01 85.58,310.18 87.55,308.41 C89.52,306.64 91.50,304.36 93.47,301.55 C95.44,298.74 97.74,294.37 99.39,291.56 C101.03,288.76 102.21,286.05 103.33,284.70 C104.45,283.35 105.11,282.62 106.09,283.45 C107.08,284.28 108.24,285.32 109.25,289.69 C110.26,294.06 111.13,301.76 112.14,309.66 C113.15,317.56 114.31,327.96 115.30,337.12 C116.28,346.27 117.07,357.81 118.06,364.57 C119.05,371.33 120.03,376.32 121.22,377.68 C122.40,379.03 123.84,375.18 125.16,372.68 C126.47,370.19 127.46,366.34 129.11,362.70 C130.75,359.06 133.05,354.17 135.02,350.84 C136.99,347.52 139.27,344.19 140.94,342.73 C142.61,341.28 143.68,341.69 145.02,342.11 C146.35,342.52 147.65,343.77 148.96,345.23 C150.28,346.68 151.72,349.60 152.91,350.84 C154.09,352.09 154.75,353.34 156.06,352.72 C157.38,352.09 159.02,349.39 160.80,347.10 C162.57,344.81 164.76,341.28 166.71,338.99 C168.66,336.70 171.54,334.31 172.50,333.37" fill="none" stroke="#e23a3a" stroke-width="1.5"/>
</g>
<rect x="41.00" y="253.30" width="131.50" height="179.40" fill="none" stroke="#999999" stroke-width="1.35"/>
<line x1="41.00" y1="432.70" x2="41.00" y2="431.20" stroke="#555" stroke-width="1"/>
<line x1="41.00" y1="253.30" x2="41.00" y2="254.80" stroke="#555" stroke-width="1"/>
<text x="41.00" y="446.80" font-size="12.3" text-anchor="middle">0</text>
<line x1="106.75" y1="432.70" x2="106.75" y2="431.20" stroke="#555" stroke-width="1"/>
<line x1="106.75" y1="253.30" x2="106.75" y2="254.80" stroke="#555" stroke-width="1"/>
<text x="106.75" y="446.80" font-size="12.3" text-anchor="middle">50</text>
<line x1="172.50" y1="432.70" x2="172.50" y2="431.20" stroke="#555" stroke-width="1"/>
<line x1="172.50" y1="253.30" x2="172.50" y2="254.80" stroke="#555" stroke-width="1"/>
<text x="172.50" y="446.80" font-size="12.3" text-anchor="middle">100</text>
<text x="38.20" y="257.70" font-size="12.4" text-anchor="end">15</text>
<text x="38.20" y="288.90" font-size="12.4" text-anchor="end">10</text>
<text x="38.20" y="320.10" font-size="12.4" text-anchor="end">5</text>
<text x="38.20" y="351.30" font-size="12.4" text-anchor="end">0</text>
<text x="38.20" y="382.50" font-size="12.4" text-anchor="end">-5</text>
<text x="38.20" y="413.70" font-size="12.4" text-anchor="end">-10</text>
<text transform="translate(13.80,341.50) rotate(-90)" font-size="13" text-anchor="middle">Forefoot Hindfoot Extension [°]</text>
<text x="106.75" y="459.8" font-size="13" text-anchor="middle">time [% gaitcycle]</text>
<line x1="222.5" y1="253.55" x2="354.0" y2="253.55" stroke="#707070" stroke-width="1" stroke-dasharray="1,2" stroke-dashoffset="0.50"/>
<line x1="222.5" y1="284.09" x2="354.0" y2="284.09" stroke="#707070" stroke-width="1" stroke-dasharray="1,2" stroke-dashoffset="0.50"/>
<line x1="222.5" y1="314.63" x2="354.0" y2="314.63" stroke="#707070" stroke-width="1" stroke-dasharray="1,2" stroke-dashoffset="0.50"/>
<line x1="222.5" y1="345.17" x2="354.0" y2="345.17" stroke="#707070" stroke-width="1" stroke-dasharray="1,2" stroke-dashoffset="0.50"/>
<line x1="222.5" y1="375.71" x2="354.0" y2="375.71" stroke="#707070" stroke-width="1" stroke-dasharray="1,2" stroke-dashoffset="0.50"/>
<line x1="222.5" y1="406.25" x2="354.0" y2="406.25" stroke="#707070" stroke-width="1" stroke-dasharray="1,2" stroke-dashoffset="0.50"/>
<g clip-path="url(#c4)">
<path d="M222.50,250.25 C222.76,250.65 223.14,250.65 224.08,252.69 C225.02,254.73 226.80,258.49 228.15,262.46 C229.51,266.43 230.87,272.03 232.23,276.51 C233.59,280.99 234.95,285.98 236.31,289.34 C237.67,292.70 238.52,295.24 240.38,296.67 C242.25,298.09 244.61,297.99 247.49,297.89 C250.36,297.79 254.21,296.97 257.61,296.06 C261.01,295.14 264.82,293.51 267.87,292.39 C270.91,291.27 273.52,291.07 275.89,289.34 C278.26,287.61 280.21,284.86 282.07,282.01 C283.93,279.16 285.23,274.88 287.07,272.23 C288.91,269.59 290.92,266.43 293.12,266.13 C295.31,265.82 298.00,268.47 300.22,270.40 C302.43,272.34 304.18,275.90 306.40,277.73 C308.61,279.56 310.96,281.80 313.50,281.40 C316.04,280.99 318.93,277.12 321.65,275.29 C324.37,273.46 326.93,271.42 329.80,270.40 C332.68,269.38 336.16,269.89 338.88,269.18 C341.60,268.47 344.23,267.65 346.11,266.13 C347.99,264.60 349.00,262.05 350.19,260.02 C351.37,257.98 352.58,255.34 353.21,253.91 C353.85,252.49 353.87,251.87 354.00,251.47 L354.00,329.65 C352.90,330.87 349.40,334.64 347.43,336.98 C345.45,339.32 343.92,342.38 342.17,343.70 C340.41,345.02 338.88,345.12 336.90,344.92 C334.93,344.72 332.52,342.78 330.33,342.48 C328.14,342.17 325.95,342.38 323.75,343.09 C321.56,343.80 319.37,345.94 317.18,346.75 C314.99,347.57 312.58,348.08 310.61,347.97 C308.63,347.87 306.99,347.16 305.35,346.14 C303.70,345.12 302.17,343.60 300.74,341.87 C299.32,340.14 298.00,337.49 296.80,335.76 C295.59,334.03 294.61,332.30 293.51,331.48 C292.41,330.67 291.43,329.96 290.22,330.87 C289.02,331.79 287.64,334.74 286.28,336.98 C284.92,339.22 283.80,341.97 282.07,344.31 C280.34,346.65 278.61,349.30 275.89,351.03 C273.17,352.76 269.49,353.57 265.76,354.69 C262.04,355.81 257.26,357.03 253.53,357.75 C249.81,358.46 246.13,359.17 243.41,358.97 C240.69,358.76 238.94,357.95 237.23,356.53 C235.52,355.10 234.16,353.17 233.15,350.42 C232.14,347.67 232.21,344.00 231.18,340.03 C230.15,336.06 228.42,330.36 226.97,326.60 C225.52,322.83 223.25,318.96 222.50,317.43 Z" fill="#ff0000" fill-opacity="0.30"/>
<path d="M222.50,320.49 C223.05,321.30 225.02,323.13 225.79,325.37 C226.55,327.61 226.38,331.18 227.10,333.93 C227.83,336.67 228.77,337.08 230.13,341.87 C231.49,346.65 233.04,358.66 235.26,362.63 C237.47,366.60 240.36,365.48 243.41,365.69 C246.45,365.89 249.81,364.77 253.53,363.85 C257.26,362.94 262.04,361.41 265.76,360.19 C269.49,358.97 273.17,358.36 275.89,356.53 C278.61,354.69 280.36,351.94 282.07,349.20 C283.78,346.45 284.77,342.99 286.15,340.03 C287.53,337.08 289.24,333.42 290.35,331.48 C291.47,329.55 292.00,328.63 292.85,328.43 C293.71,328.22 294.58,329.55 295.48,330.26 C296.38,330.97 296.80,332.09 298.24,332.70 C299.69,333.31 302.19,333.52 304.16,333.93 C306.13,334.33 308.11,335.15 310.08,335.15 C312.05,335.15 314.02,334.13 316.00,333.93 C317.97,333.72 319.92,333.72 321.91,333.93 C323.91,334.13 325.97,334.74 327.96,335.15 C329.96,335.55 331.91,335.86 333.88,336.37 C335.85,336.88 337.83,338.40 339.80,338.20 C341.77,338.00 344.07,336.27 345.72,335.15 C347.36,334.03 348.28,333.11 349.66,331.48 C351.04,329.85 353.28,326.39 354.00,325.37 L354.00,396.84 C353.52,397.55 352.60,399.74 351.11,401.11 C349.62,402.49 347.10,404.57 345.06,405.08 C343.02,405.59 341.27,404.63 338.88,404.17 C336.49,403.71 333.42,402.18 330.72,402.34 C328.03,402.49 325.40,403.76 322.70,405.08 C320.01,406.41 317.27,409.72 314.55,410.28 C311.83,410.84 308.94,409.97 306.40,408.44 C303.85,406.92 301.01,403.25 299.30,401.11 C297.59,398.98 297.17,397.04 296.14,395.62 C295.11,394.19 294.21,392.77 293.12,392.56 C292.02,392.36 290.73,393.38 289.56,394.39 C288.40,395.41 287.40,396.74 286.15,398.67 C284.90,400.60 283.25,404.07 282.07,406.00 C280.89,407.93 280.21,408.75 279.05,410.28 C277.88,411.80 276.96,413.53 275.10,415.16 C273.24,416.79 270.78,418.22 267.87,420.05 C264.95,421.88 261.01,424.43 257.61,426.16 C254.21,427.89 250.53,429.92 247.49,430.43 C244.44,430.94 241.72,430.64 239.33,429.21 C236.94,427.79 235.19,425.44 233.15,421.88 C231.11,418.32 228.88,412.52 227.10,407.83 C225.33,403.15 223.27,396.13 222.50,393.78 Z" fill="#808080" fill-opacity="0.30"/>
<path d="M222.50,357.75 C223.05,358.15 224.80,358.15 225.79,360.19 C226.77,362.23 227.52,366.50 228.42,369.96 C229.32,373.42 230.04,377.09 231.18,380.96 C232.32,384.83 233.57,390.12 235.26,393.17 C236.94,396.23 238.94,398.26 241.30,399.28 C243.67,400.30 246.74,399.99 249.46,399.28 C252.18,398.57 254.89,396.43 257.61,395.01 C260.33,393.58 263.05,391.95 265.76,390.73 C268.48,389.51 271.55,389.30 273.92,387.68 C276.28,386.05 277.93,383.91 279.97,380.96 C282.00,378.00 284.55,373.02 286.15,369.96 C287.75,366.91 288.40,364.36 289.56,362.63 C290.73,360.90 292.02,359.68 293.12,359.58 C294.21,359.48 294.96,360.90 296.14,362.02 C297.32,363.14 298.51,364.87 300.22,366.30 C301.93,367.72 304.18,369.35 306.40,370.57 C308.61,371.80 311.13,373.63 313.50,373.63 C315.87,373.63 318.06,371.59 320.60,370.57 C323.14,369.56 326.03,367.52 328.75,367.52 C331.47,367.52 334.54,369.86 336.90,370.57 C339.27,371.29 340.92,372.10 342.95,371.80 C344.99,371.49 347.29,370.27 349.13,368.74 C350.98,367.21 353.19,363.65 354.00,362.63" fill="none" stroke="#858585" stroke-width="1.5"/>
<path d="M222.50,286.28 C223.27,287.00 225.66,287.10 227.10,290.56 C228.55,294.02 229.82,301.96 231.18,307.05 C232.54,312.14 233.90,317.74 235.26,321.10 C236.61,324.46 237.64,325.99 239.33,327.21 C241.02,328.43 242.66,328.73 245.38,328.43 C248.10,328.12 252.24,326.39 255.64,325.37 C259.04,324.36 262.72,323.13 265.76,322.32 C268.81,321.51 271.55,322.01 273.92,320.49 C276.28,318.96 277.93,316.21 279.97,313.16 C282.00,310.10 284.55,304.81 286.15,302.16 C287.75,299.52 288.40,298.30 289.56,297.28 C290.73,296.26 292.13,295.85 293.12,296.06 C294.10,296.26 294.63,297.38 295.48,298.50 C296.34,299.62 296.78,300.64 298.24,302.77 C299.71,304.91 301.93,309.29 304.29,311.33 C306.66,313.36 309.73,315.19 312.45,314.99 C315.16,314.79 317.88,311.73 320.60,310.10 C323.32,308.48 326.03,306.24 328.75,305.22 C331.47,304.20 334.54,304.20 336.90,304.00 C339.27,303.79 341.27,304.51 342.95,304.00 C344.64,303.49 345.67,302.67 347.03,300.94 C348.39,299.21 349.95,295.75 351.11,293.61 C352.27,291.48 353.52,289.03 354.00,288.12" fill="none" stroke="#e23a3a" stroke-width="1.5"/>
</g>
<rect x="222.50" y="253.30" width="131.50" height="179.40" fill="none" stroke="#999999" stroke-width="1.35"/>
<line x1="222.50" y1="432.70" x2="222.50" y2="431.20" stroke="#555" stroke-width="1"/>
<line x1="222.50" y1="253.30" x2="222.50" y2="254.80" stroke="#555" stroke-width="1"/>
<text x="222.50" y="446.80" font-size="12.3" text-anchor="middle">0</text>
<line x1="288.25" y1="432.70" x2="288.25" y2="431.20" stroke="#555" stroke-width="1"/>
<line x1="288.25" y1="253.30" x2="288.25" y2="254.80" stroke="#555" stroke-width="1"/>
<text x="288.25" y="446.80" font-size="12.3" text-anchor="middle">50</text>
<line x1="354.00" y1="432.70" x2="354.00" y2="431.20" stroke="#555" stroke-width="1"/>
<line x1="354.00" y1="253.30" x2="354.00" y2="254.80" stroke="#555" stroke-width="1"/>
<text x="354.00" y="446.80" font-size="12.3" text-anchor="middle">100</text>
<text x="219.70" y="257.50" font-size="12.4" text-anchor="end">25</text>
<text x="219.70" y="288.04" font-size="12.4" text-anchor="end">20</text>
<text x="219.70" y="318.58" font-size="12.4" text-anchor="end">15</text>
<text x="219.70" y="349.12" font-size="12.4" text-anchor="end">10</text>
<text x="219.70" y="379.66" font-size="12.4" text-anchor="end">5</text>
<text x="219.70" y="410.20" font-size="12.4" text-anchor="end">0</text>
<text transform="translate(195.30,341.50) rotate(-90)" font-size="13" text-anchor="middle">Forefoot Hindfoot Supination [°]</text>
<text x="288.25" y="459.8" font-size="13" text-anchor="middle">time [% gaitcycle]</text>
<line x1="404.5" y1="254.15" x2="535.5" y2="254.15" stroke="#707070" stroke-width="1" stroke-dasharray="1,2" stroke-dashoffset="0.50"/>
<line x1="404.5" y1="280.95" x2="535.5" y2="280.95" stroke="#707070" stroke-width="1" stroke-dasharray="1,2" stroke-dashoffset="0.50"/>
<line x1="404.5" y1="307.75" x2="535.5" y2="307.75" stroke="#707070" stroke-width="1" stroke-dasharray="1,2" stroke-dashoffset="0.50"/>
<line x1="404.5" y1="334.55" x2="535.5" y2="334.55" stroke="#707070" stroke-width="1" stroke-dasharray="1,2" stroke-dashoffset="0.50"/>
<line x1="404.5" y1="361.35" x2="535.5" y2="361.35" stroke="#707070" stroke-width="1" stroke-dasharray="1,2" stroke-dashoffset="0.50"/>
<line x1="404.5" y1="388.15" x2="535.5" y2="388.15" stroke="#707070" stroke-width="1" stroke-dasharray="1,2" stroke-dashoffset="0.50"/>
<line x1="404.5" y1="414.95" x2="535.5" y2="414.95" stroke="#707070" stroke-width="1" stroke-dasharray="1,2" stroke-dashoffset="0.50"/>
<g clip-path="url(#c5)">
<path d="M404.50,357.35 C405.94,356.72 410.00,354.04 413.15,353.60 C416.29,353.15 419.96,354.04 423.36,354.67 C426.77,355.29 430.20,356.19 433.58,357.35 C436.97,358.51 440.28,359.94 443.67,361.64 C447.05,363.33 450.48,365.66 453.89,367.53 C457.29,369.41 461.73,372.45 464.11,372.89 C466.48,373.34 466.99,372.00 468.17,370.21 C469.34,368.43 470.04,366.82 471.18,362.17 C472.31,357.53 473.67,348.33 474.98,342.34 C476.29,336.35 477.71,329.65 479.04,326.26 C480.37,322.87 481.66,321.79 482.97,321.97 C484.28,322.15 485.59,324.56 486.90,327.33 C488.21,330.10 489.56,335.10 490.83,338.59 C492.10,342.07 493.17,346.09 494.50,348.24 C495.83,350.38 497.12,350.65 498.82,351.45 C500.52,352.26 502.05,352.61 504.72,353.06 C507.38,353.51 511.42,354.04 514.80,354.13 C518.19,354.22 521.57,353.51 525.02,353.60 C528.47,353.69 533.75,354.49 535.50,354.67 L535.50,416.84 C534.08,416.40 530.43,415.15 526.99,414.16 C523.54,413.18 518.86,411.57 514.80,410.95 C510.74,410.32 506.00,411.04 502.62,410.41 C499.23,409.79 496.53,409.07 494.50,407.20 C492.47,405.32 491.86,401.48 490.44,399.16 C489.02,396.83 487.20,393.80 485.98,393.26 C484.76,392.72 484.06,393.97 483.10,395.94 C482.14,397.91 481.38,400.85 480.22,405.05 C479.06,409.25 477.34,416.58 476.16,421.13 C474.98,425.69 473.84,430.33 473.14,432.39 C472.45,434.44 472.64,433.28 471.97,433.46 C471.29,433.64 470.39,434.09 469.08,433.46 C467.77,432.83 465.96,431.23 464.11,429.71 C462.25,428.19 460.68,426.22 457.95,424.35 C455.22,422.47 451.11,420.33 447.73,418.45 C444.35,416.58 441.03,414.16 437.64,413.09 C434.26,412.02 431.16,411.66 427.43,412.02 C423.69,412.38 419.06,414.16 415.24,415.24 C411.42,416.31 406.29,417.92 404.50,418.45 Z" fill="#ff0000" fill-opacity="0.30"/>
<path d="M404.50,284.45 C405.59,285.17 408.93,287.22 411.05,288.74 C413.17,290.26 414.83,292.40 417.21,293.56 C419.59,294.73 422.27,294.81 425.33,295.71 C428.39,296.60 431.81,297.85 435.55,298.92 C439.28,300.00 444.35,301.34 447.73,302.14 C451.11,302.94 453.30,303.39 455.85,303.75 C458.41,304.11 461.00,304.91 463.06,304.28 C465.11,303.66 466.90,301.96 468.17,300.00 C469.43,298.03 469.85,295.08 470.65,292.49 C471.46,289.90 472.14,288.65 473.01,284.45 C473.89,280.25 474.98,272.03 475.89,267.30 C476.81,262.57 477.62,258.46 478.51,256.04 C479.41,253.63 480.28,252.83 481.27,252.83 C482.25,252.83 483.34,254.35 484.41,256.04 C485.48,257.74 486.59,260.51 487.69,263.01 C488.78,265.51 489.82,268.82 490.96,271.05 C492.10,273.29 492.90,274.80 494.50,276.41 C496.09,278.02 498.49,279.90 500.52,280.70 C502.55,281.50 504.63,281.15 506.68,281.24 C508.73,281.33 510.46,280.88 512.84,281.24 C515.22,281.59 518.60,282.31 520.96,283.38 C523.32,284.45 524.63,286.77 526.99,287.67 C529.34,288.56 533.69,288.56 535.11,288.74 C536.53,288.92 535.43,288.74 535.50,288.74 L535.50,365.39 C534.43,365.57 531.50,366.19 529.08,366.46 C526.66,366.73 524.34,367.00 520.96,367.00 C517.57,367.00 512.51,367.09 508.78,366.46 C505.04,365.83 501.29,365.30 498.56,363.24 C495.83,361.19 493.89,356.54 492.40,354.13 C490.92,351.72 490.65,351.09 489.65,348.77 C488.65,346.45 487.14,342.16 486.38,340.20 C485.61,338.23 485.72,337.87 485.06,336.98 C484.41,336.09 483.32,334.84 482.44,334.84 C481.57,334.84 480.81,334.84 479.82,336.98 C478.84,339.12 477.82,342.79 476.55,347.70 C475.28,352.61 473.47,361.64 472.23,366.46 C470.98,371.28 470.11,373.96 469.08,376.64 C468.06,379.32 467.23,381.56 466.07,382.54 C464.91,383.52 464.17,383.08 462.14,382.54 C460.11,382.00 456.97,380.49 453.89,379.32 C450.81,378.16 447.05,376.73 443.67,375.57 C440.28,374.41 436.97,373.25 433.58,372.36 C430.20,371.46 426.77,370.93 423.36,370.21 C419.96,369.50 416.29,368.25 413.15,368.07 C410.00,367.89 405.94,368.96 404.50,369.14 Z" fill="#808080" fill-opacity="0.30"/>
<path d="M404.50,327.33 C405.57,327.60 408.54,328.31 410.92,328.94 C413.30,329.57 416.14,330.55 418.78,331.08 C421.42,331.62 424.13,331.71 426.77,332.16 C429.41,332.60 431.99,332.96 434.63,333.76 C437.27,334.57 439.98,335.91 442.62,336.98 C445.26,338.05 447.86,339.21 450.48,340.20 C453.10,341.18 456.03,342.43 458.34,342.88 C460.66,343.32 462.71,344.13 464.37,342.88 C466.03,341.63 466.99,339.30 468.30,335.37 C469.61,331.44 470.92,324.92 472.23,319.29 C473.54,313.66 474.83,305.89 476.16,301.60 C477.49,297.32 479.02,294.90 480.22,293.56 C481.42,292.22 482.25,292.58 483.36,293.56 C484.48,294.55 485.65,296.78 486.90,299.46 C488.14,302.14 489.32,306.52 490.83,309.64 C492.34,312.77 494.08,315.99 495.94,318.22 C497.79,320.45 499.98,321.97 501.96,323.04 C503.95,324.12 505.89,324.56 507.86,324.65 C509.82,324.74 511.77,323.85 513.75,323.58 C515.74,323.31 517.79,322.78 519.78,323.04 C521.77,323.31 523.71,324.65 525.67,325.19 C527.64,325.72 529.93,325.90 531.57,326.26 C533.21,326.62 534.85,327.15 535.50,327.33" fill="none" stroke="#858585" stroke-width="1.5"/>
<path d="M404.50,386.83 C405.94,386.11 410.35,383.08 413.15,382.54 C415.94,382.00 418.56,383.70 421.27,383.61 C423.98,383.52 426.33,381.65 429.39,382.00 C432.45,382.36 436.20,384.24 439.61,385.76 C443.01,387.27 446.94,389.33 449.83,391.12 C452.71,392.90 454.96,394.96 456.90,396.48 C458.84,397.99 460.18,399.16 461.49,400.23 C462.80,401.30 463.78,402.37 464.76,402.91 C465.74,403.44 466.57,403.98 467.38,403.44 C468.19,402.91 468.84,402.10 469.61,399.69 C470.37,397.28 471.14,392.99 471.97,388.97 C472.79,384.95 473.71,379.41 474.58,375.57 C475.46,371.73 476.27,368.43 477.20,365.92 C478.14,363.42 479.06,361.81 480.22,360.56 C481.38,359.31 482.84,357.71 484.15,358.42 C485.46,359.13 486.77,362.44 488.08,364.85 C489.39,367.26 490.26,370.39 492.01,372.89 C493.75,375.39 495.76,378.25 498.56,379.86 C501.35,381.47 505.39,382.09 508.78,382.54 C512.16,382.99 515.48,382.27 518.86,382.54 C522.25,382.81 526.31,383.52 529.08,384.15 C531.85,384.77 534.43,385.93 535.50,386.29" fill="none" stroke="#e23a3a" stroke-width="1.5"/>
</g>
<rect x="404.50" y="253.30" width="131.00" height="179.40" fill="none" stroke="#999999" stroke-width="1.35"/>
<line x1="404.50" y1="432.70" x2="404.50" y2="431.20" stroke="#555" stroke-width="1"/>
<line x1="404.50" y1="253.30" x2="404.50" y2="254.80" stroke="#555" stroke-width="1"/>
<text x="404.50" y="446.80" font-size="12.3" text-anchor="middle">0</text>
<line x1="470.00" y1="432.70" x2="470.00" y2="431.20" stroke="#555" stroke-width="1"/>
<line x1="470.00" y1="253.30" x2="470.00" y2="254.80" stroke="#555" stroke-width="1"/>
<text x="470.00" y="446.80" font-size="12.3" text-anchor="middle">50</text>
<line x1="535.50" y1="432.70" x2="535.50" y2="431.20" stroke="#555" stroke-width="1"/>
<line x1="535.50" y1="253.30" x2="535.50" y2="254.80" stroke="#555" stroke-width="1"/>
<text x="535.50" y="446.80" font-size="12.3" text-anchor="middle">100</text>
<text x="401.70" y="258.10" font-size="12.4" text-anchor="end">20</text>
<text x="401.70" y="284.90" font-size="12.4" text-anchor="end">15</text>
<text x="401.70" y="311.70" font-size="12.4" text-anchor="end">10</text>
<text x="401.70" y="338.50" font-size="12.4" text-anchor="end">5</text>
<text x="401.70" y="365.30" font-size="12.4" text-anchor="end">0</text>
<text x="401.70" y="392.10" font-size="12.4" text-anchor="end">-5</text>
<text x="401.70" y="418.90" font-size="12.4" text-anchor="end">-10</text>
<text transform="translate(377.30,341.50) rotate(-90)" font-size="13" text-anchor="middle">Forefoot Hindfoot Adduction [°]</text>
<text x="470.00" y="459.8" font-size="13" text-anchor="middle">time [% gaitcycle]</text>
<rect x="473.8" y="7.2" width="58" height="32" fill="#fff" stroke="#555" stroke-width="0.8"/>
<line x1="478.6" y1="15.8" x2="501.2" y2="15.8" stroke="#858585" stroke-width="1.5"/>
<line x1="478.6" y1="30.6" x2="501.2" y2="30.6" stroke="#e23a3a" stroke-width="1.5"/>
<text x="503.6" y="20" font-size="12">TDF</text>
<text x="503.6" y="35" font-size="12">FFF</text>
</g></svg></body></html>
